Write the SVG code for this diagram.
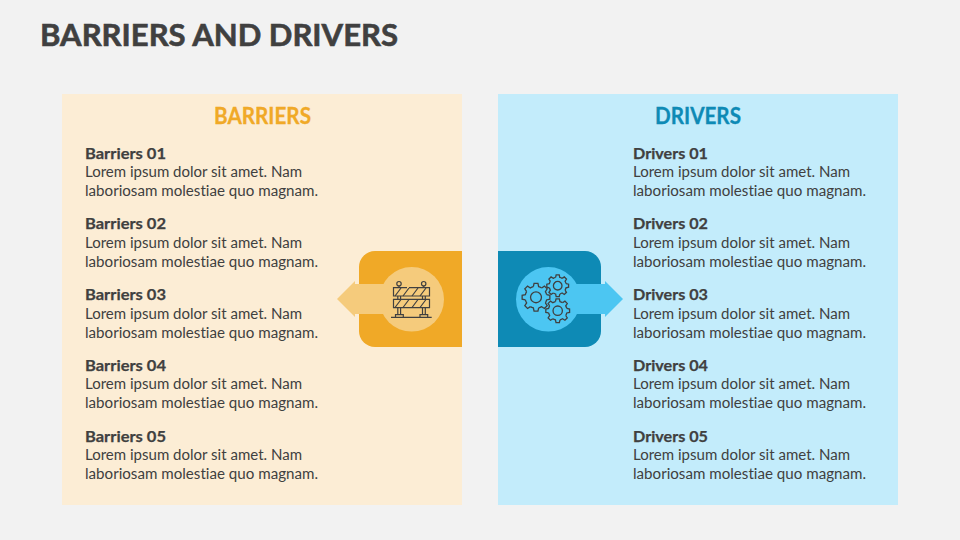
<svg xmlns="http://www.w3.org/2000/svg" xmlns:xlink="http://www.w3.org/1999/xlink" width="960" height="540" viewBox="0 0 960 540">
<style>
text{font-family:Lato,"Open Sans",sans-serif;fill:#404040;font-variant-ligatures:none}
.h{font-size:16px;font-weight:700;stroke:#404040;stroke-width:.25}
.b{font-size:14.6px}
.t{font-size:31px;font-weight:700;stroke:#404040;stroke-width:.6}
.p{font-size:22px;font-weight:700;text-anchor:middle}
.i{fill:none;stroke:#404040;stroke-width:1.2}
</style>
<defs>
<g id="seg"><path d="M-1.89-7.57L-1.39-9.9L1.39-9.9L1.89-7.57A7.8 7.8 0 0 1 4.02-6.69" fill="none" stroke="#404040" vector-effect="non-scaling-stroke" stroke-width="1.3"/></g>
<g id="gear">
<use xlink:href="#seg"/><use xlink:href="#seg" transform="rotate(45)"/><use xlink:href="#seg" transform="rotate(90)"/><use xlink:href="#seg" transform="rotate(135)"/><use xlink:href="#seg" transform="rotate(180)"/><use xlink:href="#seg" transform="rotate(225)"/><use xlink:href="#seg" transform="rotate(270)"/><use xlink:href="#seg" transform="rotate(315)"/>
<circle r="3.9" fill="none" stroke="#404040" vector-effect="non-scaling-stroke" stroke-width="1.3"/>
</g>
</defs>
<rect width="960" height="540" fill="#f2f2f2"/>
<text class="t" x="40" y="45.5" textLength="358" lengthAdjust="spacingAndGlyphs">BARRIERS AND DRIVERS</text>
<g id="barriers-panel">
<rect x="62" y="94" width="400" height="411" fill="#fcedd5"/>
<text class="p" x="262.5" y="124" textLength="97" lengthAdjust="spacingAndGlyphs" style="fill:#f0a927;stroke:#f0a927;stroke-width:.3">BARRIERS</text>
</g>
<g id="drivers-panel">
<rect x="498" y="94" width="400" height="411" fill="#c3ecfb"/>
<text class="p" x="698" y="124" textLength="86" lengthAdjust="spacingAndGlyphs" style="fill:#0e8ab5;stroke:#0e8ab5;stroke-width:.3">DRIVERS</text>
</g>
<g id="barriers-items">
<g id="b1"><text class="h" x="85" y="159" textLength="81" lengthAdjust="spacingAndGlyphs">Barriers 01</text><text class="b" x="85" y="177" textLength="217" lengthAdjust="spacingAndGlyphs">Lorem ipsum dolor sit amet. Nam</text><text class="b" x="85" y="196" textLength="233" lengthAdjust="spacingAndGlyphs">laboriosam molestiae quo magnam.</text></g>
<g id="b2"><text class="h" x="85" y="229" textLength="81" lengthAdjust="spacingAndGlyphs">Barriers 02</text><text class="b" x="85" y="248" textLength="217" lengthAdjust="spacingAndGlyphs">Lorem ipsum dolor sit amet. Nam</text><text class="b" x="85" y="267" textLength="233" lengthAdjust="spacingAndGlyphs">laboriosam molestiae quo magnam.</text></g>
<g id="b3"><text class="h" x="85" y="300" textLength="81" lengthAdjust="spacingAndGlyphs">Barriers 03</text><text class="b" x="85" y="319" textLength="217" lengthAdjust="spacingAndGlyphs">Lorem ipsum dolor sit amet. Nam</text><text class="b" x="85" y="338" textLength="233" lengthAdjust="spacingAndGlyphs">laboriosam molestiae quo magnam.</text></g>
<g id="b4"><text class="h" x="85" y="371" textLength="81" lengthAdjust="spacingAndGlyphs">Barriers 04</text><text class="b" x="85" y="389" textLength="217" lengthAdjust="spacingAndGlyphs">Lorem ipsum dolor sit amet. Nam</text><text class="b" x="85" y="408" textLength="233" lengthAdjust="spacingAndGlyphs">laboriosam molestiae quo magnam.</text></g>
<g id="b5"><text class="h" x="85" y="442" textLength="81" lengthAdjust="spacingAndGlyphs">Barriers 05</text><text class="b" x="85" y="460" textLength="217" lengthAdjust="spacingAndGlyphs">Lorem ipsum dolor sit amet. Nam</text><text class="b" x="85" y="479" textLength="233" lengthAdjust="spacingAndGlyphs">laboriosam molestiae quo magnam.</text></g>
</g>
<g id="drivers-items">
<g id="d1"><text class="h" x="633" y="159" textLength="75" lengthAdjust="spacingAndGlyphs">Drivers 01</text><text class="b" x="633" y="177" textLength="217" lengthAdjust="spacingAndGlyphs">Lorem ipsum dolor sit amet. Nam</text><text class="b" x="633" y="196" textLength="233" lengthAdjust="spacingAndGlyphs">laboriosam molestiae quo magnam.</text></g>
<g id="d2"><text class="h" x="633" y="229" textLength="75" lengthAdjust="spacingAndGlyphs">Drivers 02</text><text class="b" x="633" y="248" textLength="217" lengthAdjust="spacingAndGlyphs">Lorem ipsum dolor sit amet. Nam</text><text class="b" x="633" y="267" textLength="233" lengthAdjust="spacingAndGlyphs">laboriosam molestiae quo magnam.</text></g>
<g id="d3"><text class="h" x="633" y="300" textLength="75" lengthAdjust="spacingAndGlyphs">Drivers 03</text><text class="b" x="633" y="319" textLength="217" lengthAdjust="spacingAndGlyphs">Lorem ipsum dolor sit amet. Nam</text><text class="b" x="633" y="338" textLength="233" lengthAdjust="spacingAndGlyphs">laboriosam molestiae quo magnam.</text></g>
<g id="d4"><text class="h" x="633" y="371" textLength="75" lengthAdjust="spacingAndGlyphs">Drivers 04</text><text class="b" x="633" y="389" textLength="217" lengthAdjust="spacingAndGlyphs">Lorem ipsum dolor sit amet. Nam</text><text class="b" x="633" y="408" textLength="233" lengthAdjust="spacingAndGlyphs">laboriosam molestiae quo magnam.</text></g>
<g id="d5"><text class="h" x="633" y="442" textLength="75" lengthAdjust="spacingAndGlyphs">Drivers 05</text><text class="b" x="633" y="460" textLength="217" lengthAdjust="spacingAndGlyphs">Lorem ipsum dolor sit amet. Nam</text><text class="b" x="633" y="479" textLength="233" lengthAdjust="spacingAndGlyphs">laboriosam molestiae quo magnam.</text></g>
</g>
<g id="barriers-badge">
<path d="M462 251H375A16 16 0 0 0 359 267V331A16 16 0 0 0 375 347H462Z" fill="#f0a927"/>
<circle cx="411.7" cy="299.3" r="32.3" fill="#f5cb7c"/>
<path d="M337 299L355 281V284H390V314H355V317Z" fill="#f5cb7c"/>
<g id="barricade" class="i">
<path d="M407 287.7H393.5V296H429.5V287.7H409M393.5 299.3H429.5V307.6H393.5Z"/>
<path d="M395 296L401 288M403 296L409 288M412 296L418 288M420 296L426 288M395 307.5L401 299.5M403 307.5L409 299.5M412 307.5L418 299.5M420 307.5L426 299.5"/>
<circle cx="399" cy="283.7" r="2.2"/><circle cx="423.7" cy="283.7" r="2.2"/>
<path d="M399 286V288M423.7 286V288M397.8 296V299M400.6 296V299M422.5 296V299M425.3 296V299M397.8 307.6V314.7M400.6 307.6V314.7M422.5 307.6V314.7M425.3 307.6V314.7"/>
<path d="M395.5 317.3V314.7H403.3V317.3M420 317.3V314.7H427.7V317.3M391 317.3H431.7"/>
</g>
</g>
<g id="drivers-badge">
<path d="M498 251H585A16 16 0 0 1 601 267V331A16 16 0 0 1 585 347H498Z" fill="#0e8ab5"/>
<circle cx="548.3" cy="299.3" r="32.3" fill="#4cc6f2"/>
<path d="M623 299L605 281V284H570V314H605V317Z" fill="#4cc6f2"/>
<g id="gears">
<use xlink:href="#gear" transform="translate(536 297.3) scale(1.4)"/>
<use xlink:href="#gear" transform="translate(557.7 285.7) scale(1.1)"/>
<use xlink:href="#gear" transform="translate(557.7 310.7) scale(1.2)"/>
</g>
</g>
</svg>
